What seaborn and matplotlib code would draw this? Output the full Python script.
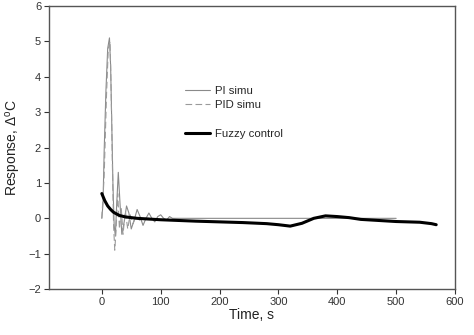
import numpy as np
import pandas as pd
import matplotlib
matplotlib.use("Agg")
import matplotlib.pyplot as plt
import seaborn as sns
from matplotlib.lines import Line2D

# ---- data ----
pi_t = [0, 2, 4, 7, 10, 13, 15, 17, 19, 21, 23, 25, 28, 31, 34, 38, 42, 46, 50, 55,
        60, 65, 70, 75, 80, 85, 90, 95, 100, 105, 110, 115, 120, 500]
pi_v = [0.0, 0.4, 1.9, 3.6, 4.8, 5.1, 4.3, 2.6, 0.9, -0.2, -0.5, 0.3, 1.3, 0.4, -0.45,
        -0.1, 0.35, 0.15, -0.3, -0.05, 0.25, 0.05, -0.2, 0.0, 0.15, 0.0, -0.1, 0.05,
        0.1, 0.0, -0.05, 0.05, 0.0, 0.0]

pid_t = [0, 4, 8, 11, 14, 16, 18, 20, 22, 24, 27, 30, 33, 36, 40, 44, 48, 53, 58, 64, 70, 80]
pid_v = [0.0, 1.2, 3.5, 4.8, 5.0, 3.5, 1.5, -0.2, -0.9, -0.4, 0.7, -0.3, 0.3, -0.45,
         0.2, -0.3, 0.1, -0.15, 0.05, -0.05, 0.0, 0.0]

fz_t = [0, 5, 10, 15, 20, 30, 40, 50, 60, 80, 100, 130, 160, 200, 240, 280, 300,
        320, 340, 360, 380, 400, 420, 440, 460, 480, 500, 520, 540, 560, 568]
fz_v = [0.7, 0.5, 0.35, 0.25, 0.17, 0.08, 0.04, 0.02, 0.0, -0.02, -0.04, -0.06, -0.08,
        -0.1, -0.12, -0.15, -0.18, -0.22, -0.14, 0.0, 0.07, 0.05, 0.02, -0.03, -0.05,
        -0.07, -0.09, -0.1, -0.11, -0.15, -0.18]

x_ticks = [0, 100, 200, 300, 400, 500, 600]
y_ticks = [-2, -1, 0, 1, 2, 3, 4, 5, 6]

sns.set_style("white")
plt.rcParams['font.family'] = ['Liberation Sans', 'DejaVu Sans']
plt.rcParams['mathtext.fontset'] = 'custom'
plt.rcParams['mathtext.rm'] = 'Liberation Sans'
plt.rcParams['mathtext.it'] = 'Liberation Sans'

fig = plt.figure(figsize=(4.74, 3.35), dpi=100)
ax = fig.add_axes([0.103, 0.137, 0.857, 0.845])

df_pi = pd.DataFrame({"t": pi_t, "v": pi_v})
df_pid = pd.DataFrame({"t": pid_t, "v": pid_v})
df_fz = pd.DataFrame({"t": fz_t, "v": fz_v})

sns.lineplot(data=df_pi, x="t", y="v", ax=ax, color="#8a8a8a", lw=0.8,
             sort=False, estimator=None)
sns.lineplot(data=df_pid, x="t", y="v", ax=ax, color="#9a9a9a", lw=0.8,
             linestyle=(0, (6, 3)), sort=False, estimator=None)
sns.lineplot(data=df_fz, x="t", y="v", ax=ax, color="black", lw=2.2,
             sort=False, estimator=None)

ax.set_xlim(-90, 600)
ax.set_ylim(-2, 6)
ax.set_xticks(x_ticks)
ax.set_yticks(y_ticks)
ax.tick_params(axis='both', direction='out', length=3.5, width=0.8,
               labelsize=8, colors='#333333', bottom=True, left=True,
               top=False, right=False, pad=2)
for s in ax.spines.values():
    s.set_color('#555555')
    s.set_linewidth(1.0)

ax.set_xlabel("Time, s", fontsize=10, labelpad=1, color='#222222')
ax.set_ylabel(r"Response, $\Delta^{\mathrm{o}}$C", fontsize=10, labelpad=4, color='#222222')

handles = [Line2D([], [], color="#8a8a8a", lw=0.8),
           Line2D([], [], color="#9a9a9a", lw=0.8, linestyle=(0, (6, 3))),
           Line2D([], [], color="none", lw=0),
           Line2D([], [], color="black", lw=2.2)]
labels = ["PI simu", "PID simu", " ", "Fuzzy control"]
ax.legend(handles, labels, loc="upper left", bbox_to_anchor=(0.335, 0.719),
          frameon=False, fontsize=8.2, handlelength=2.2, handletextpad=0.45,
          labelspacing=0.4, borderpad=0, borderaxespad=0)

fig.savefig("out.png", dpi=100)
